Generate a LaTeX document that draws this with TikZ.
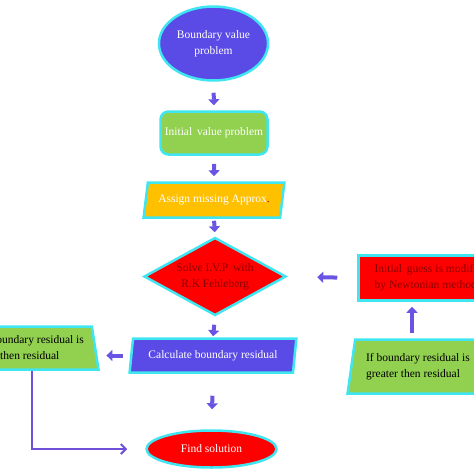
\documentclass[tikz,border=0pt]{standalone}
\usepackage{fontspec}
\setmainfont{Liberation Serif}
\usetikzlibrary{shapes.geometric,arrows.meta,calc}
\definecolor{bord}{HTML}{3FE6F2}
\definecolor{violet}{HTML}{5B4BE6}
\definecolor{grn}{HTML}{92D050}
\definecolor{orng}{HTML}{FFC000}
\definecolor{rd}{HTML}{FF0000}
\definecolor{dred}{HTML}{8B0000}
\definecolor{arr}{HTML}{6A54E4}
\definecolor{lcol}{HTML}{7050D8}
\tikzset{
  box/.style={draw=bord, line width=2.5pt, inner sep=2pt, align=center, font=\fontsize{11.5}{16}\selectfont},
  para/.style={box, trapezium, trapezium stretches=true},
  blk/.style={draw=arr, line width=4pt, -{Triangle[width=11pt,length=6pt]}},
  lconn/.style={draw=lcol, line width=2pt, -{Straight Barb[width=10pt,length=5pt,line width=2pt]}}
}
\begin{document}
\begin{tikzpicture}[x=1pt,y=-1pt]
\useasboundingbox (0,0) rectangle (474,474);
\clip (0,0) rectangle (474,474);
\node[box, ellipse, fill=violet, text=white, minimum width=94pt, minimum height=74pt] (bvp) at (213.5,43.5) {Boundary value\\problem};
\node[box, rounded corners=8pt, fill=grn, text=white, minimum width=107pt, minimum height=43pt] (ivp) at (214,133) {Initial\, value problem};
\node[para, trapezium left angle=75, trapezium right angle=105, fill=orng, text=white, minimum width=141pt, minimum height=35pt] (asg) at (214,200) {Assign missing Approx\textcolor{dred}{.}};
\node[box, diamond, shape aspect=1.8, fill=rd, text=dred, minimum width=142pt, minimum height=78pt, inner sep=0pt] (solve) at (215,276.5) {Solve I.V.P\, with\\R.K Fehleberg};
\node[para, trapezium left angle=79, trapezium right angle=101, fill=violet, text=white, minimum width=167pt, minimum height=34pt] (calc) at (213,355.5) {Calculate boundary residual};
\node[box, ellipse, fill=rd, text=white, minimum width=130pt, minimum height=37pt] (find) at (211.5,449) {Find solution};
\node[para, trapezium left angle=78, trapezium right angle=78, fill=grn, text=black, align=left, minimum width=133pt, minimum height=43pt] (trapL) at (32,348) {If boundary residual is\\less then residual};
\node[para, trapezium left angle=78, trapezium right angle=78, fill=grn, text=black, align=left, minimum width=141pt, minimum height=54pt] (trapR) at (418,366.5) {If boundary residual is\\greater then residual};
\node[box, fill=rd, text=dred, align=left, minimum width=145pt, minimum height=45pt] (newt) at (431,278) {Initial\, guess is modified\\by Newtonian method};
\coordinate (upx) at (412,0);
\draw[blk, shorten <=11pt, shorten >=5pt] (bvp.south) -- (ivp.north);
\draw[blk, shorten <=8pt, shorten >=5pt] (ivp.south) -- (asg.north);
\draw[blk, shorten <=2pt, shorten >=4pt] (asg.south) -- (solve.north);
\draw[blk, shorten <=8pt, shorten >=1pt] (solve.south) -- (calc.north);
\draw[blk, shorten <=22pt, shorten >=20pt] (calc.south) -- (find.north);
\draw[blk, shorten <=20pt, shorten >=30pt] (newt.west) -- (solve.east);
\draw[blk, shorten <=5pt, shorten >=5pt] (trapR.north -| upx) -- (newt.south -| upx);
\draw[blk, shorten <=7pt, shorten >=10pt] (calc.west) -- (calc.west -| trapL.east);
\draw[lconn, shorten >=18pt] (trapL.south) |- (find.west);
\end{tikzpicture}
\end{document}
